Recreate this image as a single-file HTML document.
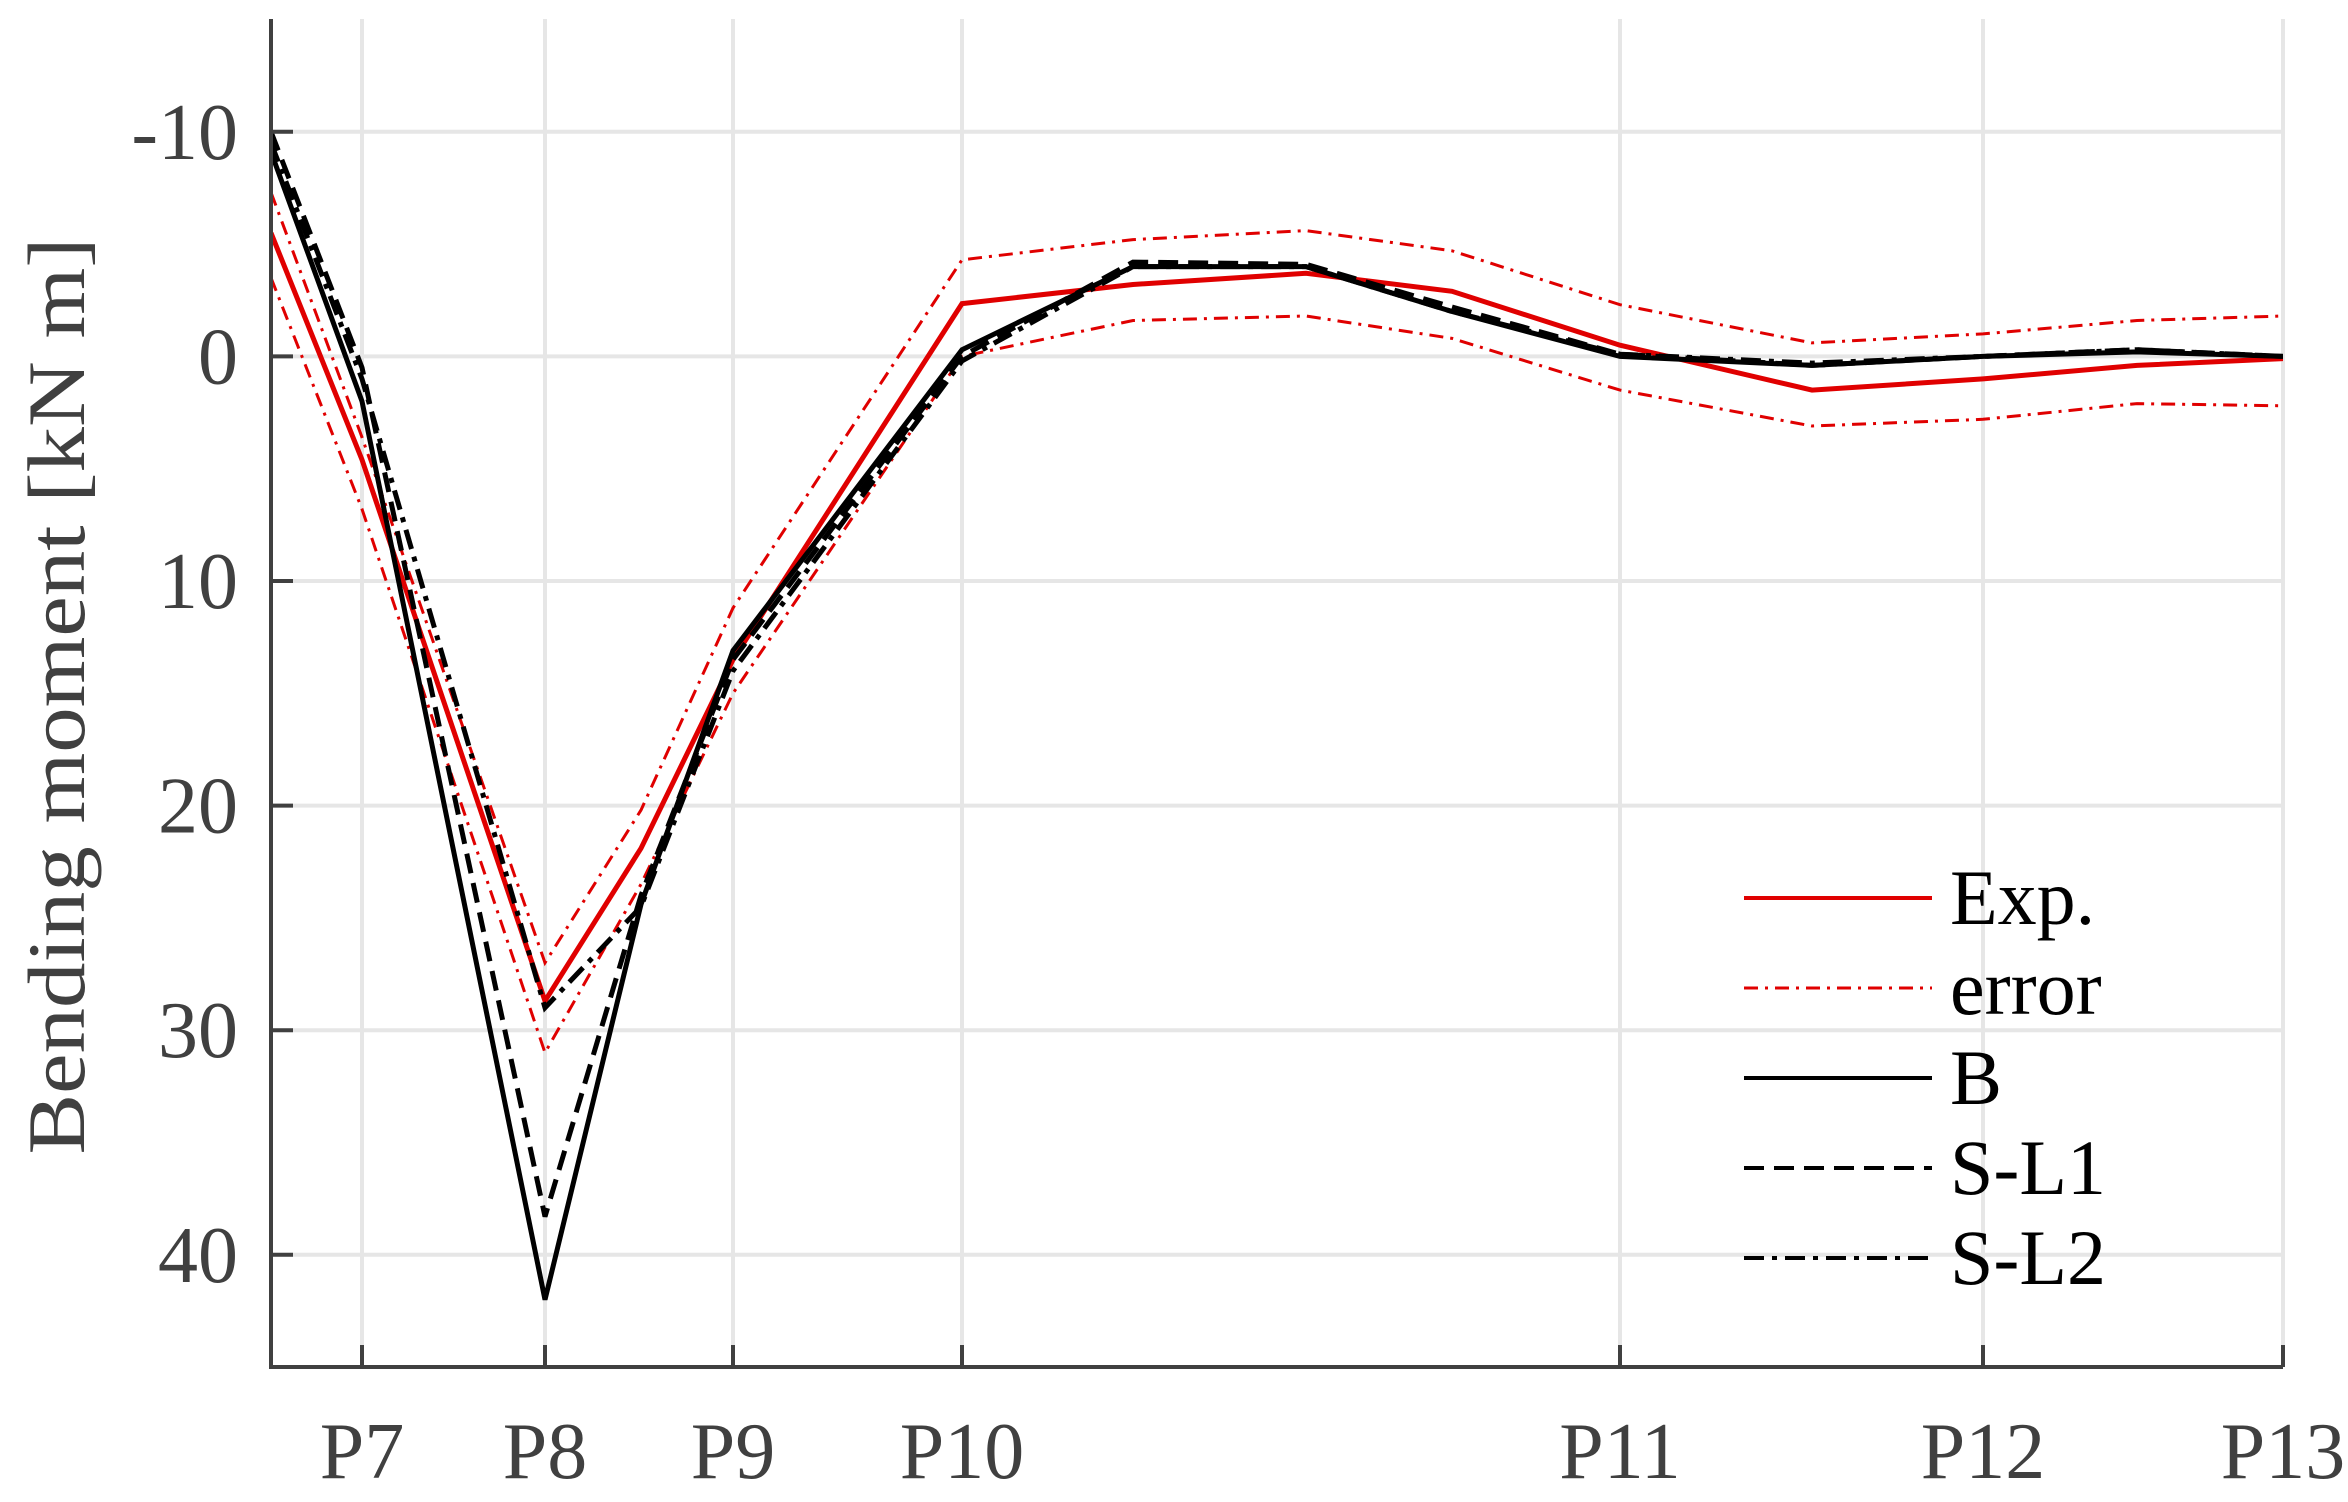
<!DOCTYPE html>
<html><head><meta charset="utf-8"><style>html,body{margin:0;padding:0;background:#fff}svg{display:block}text{font-family:"Liberation Serif",serif}</style></head>
<body>
<svg id="s" width="2348" height="1502" viewBox="0 0 2348 1502" xmlns="http://www.w3.org/2000/svg">
<defs><clipPath id="c"><rect x="271" y="19" width="2012" height="1348"/></clipPath></defs>
<g id="grid" stroke="#e6e6e6" stroke-width="4"></g>
<g id="data" clip-path="url(#c)" fill="none" stroke-linejoin="miter"></g>
<g id="axes" stroke="#404040" stroke-width="4" fill="none"></g>
<g id="labels" fill="#404040" font-size="80"></g>
<text x="0" y="0" font-size="82" fill="#404040" text-anchor="middle" transform="translate(84,696) rotate(-90)" textLength="917" lengthAdjust="spacingAndGlyphs">Bending moment [kN m]</text>
<g id="legend" font-size="78" fill="#000"></g>
</svg>
<script>
var NS="http://www.w3.org/2000/svg";
function el(p,t,a,txt){var e=document.createElementNS(NS,t);for(var k in a)e.setAttribute(k,a[k]);if(txt)e.textContent=txt;document.getElementById(p).appendChild(e);return e;}
function Y(v){return 356.4+22.46*v;}
var L=271,R=2283,T=19,B=1367;
var tx=[362,545,733,962,1620,1983,2283],tn=["P7","P8","P9","P10","P11","P12","P13"];
var yv=[-10,0,10,20,30,40];
tx.forEach(function(x){el("grid","line",{x1:x,y1:T,x2:x,y2:B});});
yv.forEach(function(v){el("grid","line",{x1:L,y1:Y(v),x2:R,y2:Y(v)});});
var xs=[271,362,545,641,733,962,1133,1306,1452,1620,1812,1983,2137,2283];
function pl(d,col,w,dash){var p=xs.map(function(x,i){return x+","+Y(d[i]).toFixed(1);}).join(" ");var a={points:p,stroke:col,"stroke-width":w};if(dash)a["stroke-dasharray"]=dash;el("data","polyline",a);}
pl([-7.3,3.6,27,20.2,11.2,-4.3,-5.2,-5.6,-4.7,-2.3,-0.6,-1,-1.6,-1.8],"#e00000",3,"14,7,3,7");
pl([-3.5,6.8,31,23.5,15,0,-1.6,-1.8,-0.8,1.5,3.1,2.8,2.1,2.2],"#e00000",3,"14,7,3,7");
pl([-5.5,4.6,28.7,21.9,13.5,-2.35,-3.2,-3.7,-2.9,-0.5,1.5,1.0,0.4,0.1],"#e00000",5);
pl([-9.1,2,42,24.4,13.1,-0.3,-4,-4,-2,0,0.4,0,-0.2,0],"#000",5);
pl([-10,0.5,38.3,24,13.5,0,-4.2,-4.1,-2.2,-0.1,0.4,0,-0.3,0],"#000",5,"20,10");
pl([-9.5,1,29,24.5,14,0.2,-4,-4,-2,-0.1,0.3,0,-0.3,0],"#000",5,"20,8,5,8");
el("axes","polyline",{points:L+","+T+" "+L+","+B+" "+R+","+B});
tx.forEach(function(x,i){el("axes","line",{x1:x,y1:B,x2:x,y2:B-22});el("labels","text",{x:x,y:1478,"text-anchor":"middle"},tn[i]);});
yv.forEach(function(v){el("axes","line",{x1:L,y1:Y(v),x2:L+22,y2:Y(v)});el("labels","text",{x:238,y:Y(v)+27,"text-anchor":"end"},String(v));});
var lg=[["Exp.","#e00000",4,null],["error","#e00000",3,"14,7,3,7"],["B","#000",4,null],["S-L1","#000",4,"20,10"],["S-L2","#000",4,"20,8,5,8"]];
lg.forEach(function(r,i){var y=898+i*90;var a={x1:1744,y1:y,x2:1932,y2:y,stroke:r[1],"stroke-width":r[2]};if(r[3])a["stroke-dasharray"]=r[3];el("legend","line",a);el("legend","text",{x:1950,y:y+26},r[0]);});
</script>
</body></html>
